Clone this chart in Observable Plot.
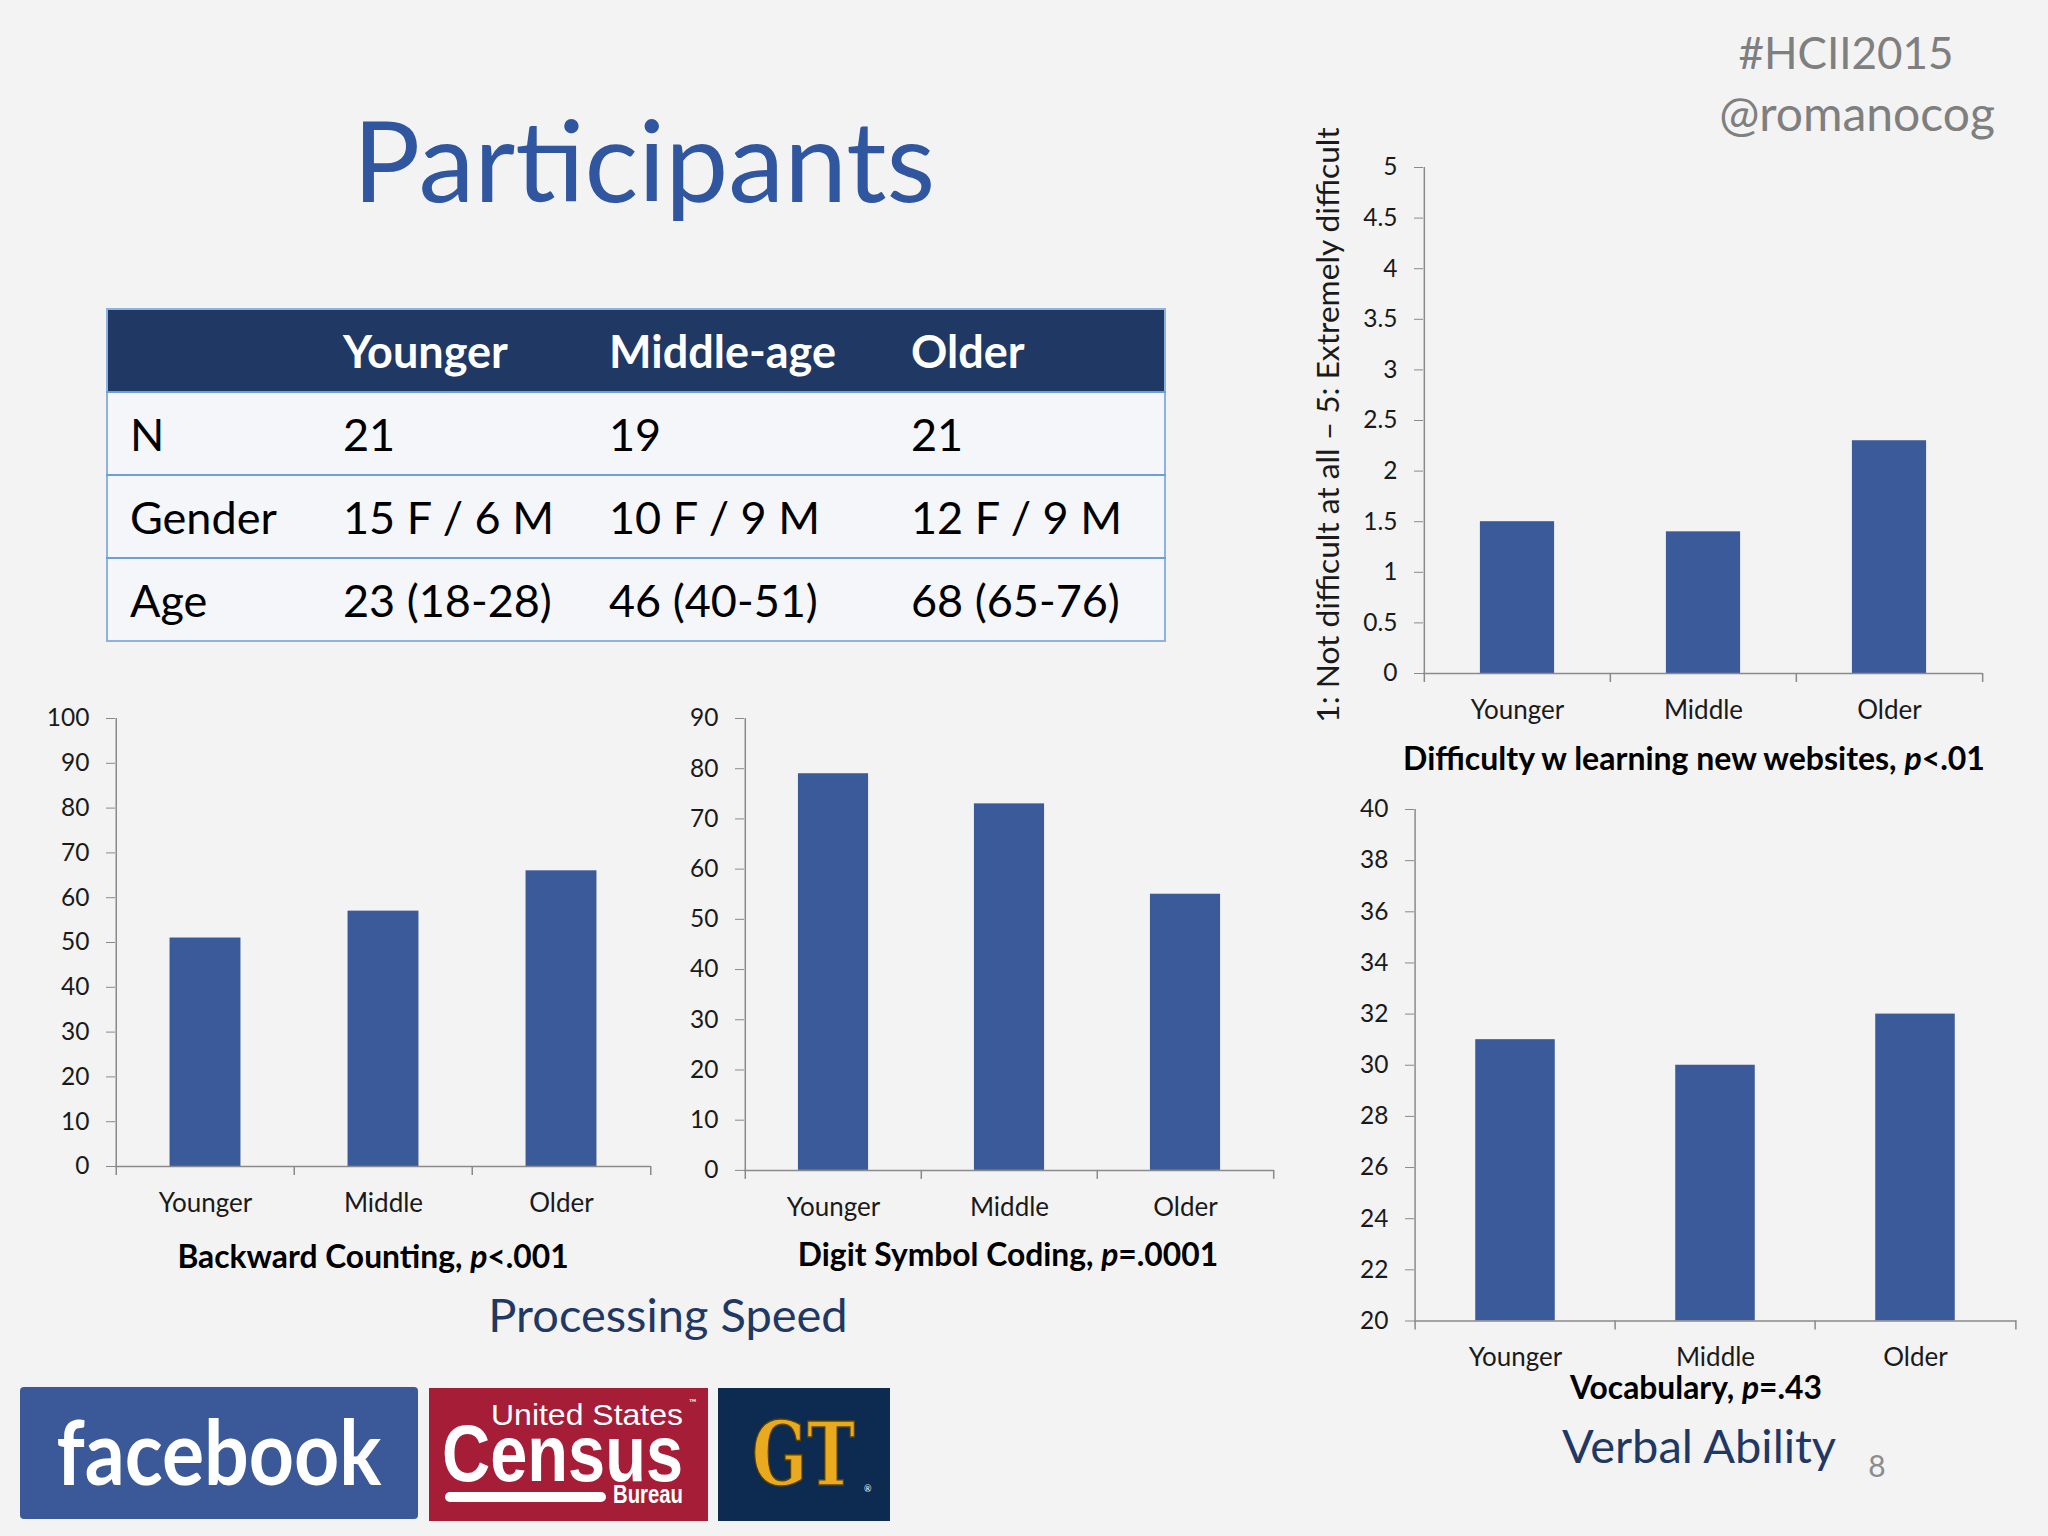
<!DOCTYPE html>
<html><head><meta charset="utf-8">
<script src="https://cdn.jsdelivr.net/npm/d3@7"></script>
<script src="https://cdn.jsdelivr.net/npm/@observablehq/plot@0.6"></script>
<style>
html,body{margin:0;padding:0;background:#f3f3f3;}
#slide{position:relative;width:2048px;height:1536px;background:#f3f3f3;font-family:Lato,"Open Sans",sans-serif;overflow:hidden;}
#slide svg{position:absolute;overflow:visible;}
table.demo{position:absolute;left:106px;top:308px;width:1058px;border-collapse:collapse;table-layout:fixed;font-family:Lato,sans-serif;font-size:45px;border:2px solid #8cb2e0;}
table.demo td{padding:0 0 0 22px;vertical-align:middle;line-height:1.2;white-space:nowrap;}
table.demo tr{height:83px;}
table.demo tr.head{background:#1f3864;color:#fff;font-weight:700;}
table.demo tr.body{background:#f4f6fa;color:#000;}
table.demo tr.body td{border-top:2px solid #6d9fd8;}
</style></head>
<body><div id="slide"></div>
<script>
// ---------- data ----------
const groups = ["Younger", "Middle", "Older"];
const difficulty = [1.5, 1.4, 2.3];
const backwardCounting = [51, 57, 66];
const digitSymbolCoding = [79, 73, 55];
const vocabulary = [31, 30, 32];

const difficultyTicks = [0, 0.5, 1, 1.5, 2, 2.5, 3, 3.5, 4, 4.5, 5];
const backwardTicks = [0, 10, 20, 30, 40, 50, 60, 70, 80, 90, 100];
const digitTicks = [0, 10, 20, 30, 40, 50, 60, 70, 80, 90];
const vocabTicks = [20, 22, 24, 26, 28, 30, 32, 34, 36, 38, 40];

const tableHeader = ["", "Younger", "Middle-age", "Older"];
const tableN = ["N", "21", "19", "21"];
const tableGender = ["Gender", "15 F / 6 M", "10 F / 9 M", "12 F / 9 M"];
const tableAge = ["Age", "23 (18-28)", "46 (40-51)", "68 (65-76)"];

// ---------- styles ----------
const FONT = "Lato, 'Open Sans', sans-serif";
const BAR = "#3b5a9a";
const GRAY = "#8a8a8a";
const INK = "#1a1a1a";
const slide = document.getElementById("slide");

// ---------- overlay text & logos ----------
const ov = d3.select(slide).append("svg")
  .attr("width", 2048).attr("height", 1536)
  .style("left", "0px").style("top", "0px")
  .style("font-family", FONT);

function txt(x, y, s, o = {}) {
  const t = ov.append("text").attr("x", x).attr("y", y)
    .attr("text-anchor", o.anchor || "middle")
    .attr("font-size", o.size || 30)
    .attr("font-weight", o.weight || 400)
    .attr("fill", o.fill || "#000");
  if (o.family) t.attr("font-family", o.family);
  if (o.len) t.attr("textLength", o.len).attr("lengthAdjust", "spacingAndGlyphs");
  if (o.stroke) t.attr("stroke", o.stroke).attr("stroke-width", o.sw || 1);
  if (o.rotate) t.attr("transform", `rotate(${o.rotate},${x},${y})`);
  if (Array.isArray(s)) {
    s.forEach(([str, italic]) => t.append("tspan").attr("font-style", italic ? "italic" : "normal").text(str));
  } else t.text(s);
  return t;
}

txt(1846, 69, "#HCII2015", {size: 44, fill: "#7f7f7f"});
txt(1857, 131, "@romanocog", {size: 48, fill: "#7f7f7f"});
txt(644, 202, "Participants", {size: 112.5, fill: "#2f569f"});

txt(1694, 770, [["Difficulty w learning new websites, "], ["p", true], ["<.01"]], {size: 32, weight: 700});
txt(1339, 425, "1: Not difficult at all \u2013 5: Extremely difficult", {size: 31.7, fill: INK, rotate: -90});
txt(373, 1268, [["Backward Counting, "], ["p", true], ["<.001"]], {size: 31.8, weight: 700});
txt(1008, 1266, [["Digit Symbol Coding, "], ["p", true], ["=.0001"]], {size: 31.8, weight: 700});
txt(1696, 1399, [["Vocabulary, "], ["p", true], ["=.43"]], {size: 31.8, weight: 700});
txt(668, 1332, "Processing Speed", {size: 47, fill: "#1f3864"});
txt(1699, 1463, "Verbal Ability", {size: 47, fill: "#1f3864"});
txt(1877, 1477, "8", {size: 30, fill: "#8c8c8c"});

// logos
ov.append("rect").attr("x", 20).attr("y", 1387).attr("width", 398).attr("height", 132).attr("rx", 4).attr("fill", "#3b5998");
txt(219, 1485, "facebook", {size: 90, weight: 700, fill: "#fff", len: 325});
ov.append("rect").attr("x", 429).attr("y", 1388).attr("width", 279).attr("height", 133).attr("fill", "#a51d37");
const NARROW = "'Liberation Sans Narrow', 'Liberation Sans', sans-serif";
txt(491, 1425, "United States", {size: 29, anchor: "start", fill: "#fff", len: 192, family: NARROW});
txt(689, 1406, "\u2122", {size: 10, anchor: "start", fill: "#fff"});
txt(442, 1481, "Census", {size: 80, weight: 700, anchor: "start", fill: "#fff", len: 241, family: NARROW});
ov.append("rect").attr("x", 445).attr("y", 1492).attr("width", 161).attr("height", 10).attr("rx", 5).attr("fill", "#fff");
txt(613, 1503, "Bureau", {size: 25, weight: 700, anchor: "start", fill: "#fff", len: 70, family: NARROW});
ov.append("rect").attr("x", 718).attr("y", 1388).attr("width", 172).attr("height", 133).attr("fill", "#0d2b50");
txt(752, 1485, "GT", {size: 88, weight: 700, anchor: "start", fill: "#eaaa1f", stroke: "#5a4300", sw: 1.5, len: 103, family: "'DejaVu Serif', serif"});
txt(864, 1492, "\u00ae", {size: 9, anchor: "start", fill: "#fff"});

// ---------- table ----------
const tbl = document.createElement("table");
tbl.className = "demo";
const colW = [214, 266, 302, 276];
const cg = document.createElement("colgroup");
colW.forEach(w => { const c = document.createElement("col"); c.style.width = w + "px"; cg.appendChild(c); });
tbl.appendChild(cg);
[[tableHeader, "head"], [tableN, "body"], [tableGender, "body"], [tableAge, "body"]].forEach(([row, cls]) => {
  const tr = document.createElement("tr");
  tr.className = cls;
  row.forEach(v => { const td = document.createElement("td"); td.textContent = v; tr.appendChild(td); });
  tbl.appendChild(tr);
});
slide.appendChild(tbl);

// ---------- bar charts ----------
function barChart(values, domain, ticks, box) {
  const mL = 110, mR = 30, mT = 20, mB = 80;
  const iw = box.x1 - box.x0, ih = box.y1 - box.y0;
  const bw = iw / groups.length;
  const tickU = 9 * (domain[1] - domain[0]) / ih;
  const data = groups.map((g, i) => ({group: g, value: values[i]}));
  const last = groups[groups.length - 1];
  const svg = Plot.plot({
    width: iw + mL + mR, height: ih + mT + mB,
    marginLeft: mL, marginRight: mR, marginTop: mT, marginBottom: mB,
    style: {background: "transparent", fontFamily: FONT, overflow: "visible"},
    x: {type: "band", domain: groups, padding: 0, label: null},
    y: {domain, label: null},
    marks: [
      Plot.barY(data, {x: "group", y1: domain[0], y2: "value", fill: BAR, insetLeft: bw * 0.3, insetRight: bw * 0.3}),
      Plot.ruleY([domain[0]], {stroke: GRAY, strokeWidth: 1.5}),
      Plot.ruleX([groups[0]], {dx: -bw / 2, stroke: GRAY, strokeWidth: 1.5}),
      Plot.ruleX(groups, {dx: -bw / 2, y1: domain[0], y2: domain[0] - tickU, stroke: GRAY, strokeWidth: 1.5}),
      Plot.ruleX([last], {dx: bw / 2, y1: domain[0], y2: domain[0] - tickU, stroke: GRAY, strokeWidth: 1.5}),
      Plot.axisY({ticks, tickSize: 9, tickPadding: 17, fontSize: 24.5, stroke: GRAY, fill: INK, tickFormat: d => String(d), label: null}),
      Plot.axisX({tickSize: 0, tickPadding: 27, fontSize: 26, fill: INK, label: null})
    ]
  });
  svg.style.position = "absolute";
  svg.style.left = (box.x0 - mL) + "px";
  svg.style.top = (box.y0 - mT) + "px";
  slide.appendChild(svg);
}

barChart(difficulty, [0, 5], difficultyTicks, {x0: 1423, x1: 1982, y0: 167, y1: 673});
barChart(backwardCounting, [0, 100], backwardTicks, {x0: 115, x1: 650.5, y0: 717.7, y1: 1165.7});
barChart(digitSymbolCoding, [0, 90], digitTicks, {x0: 743.7, x1: 1273, y0: 717.7, y1: 1169.6});
barChart(vocabulary, [20, 40], vocabTicks, {x0: 1414, x1: 2016.4, y0: 808.5, y1: 1320});
</script>
</body></html>
